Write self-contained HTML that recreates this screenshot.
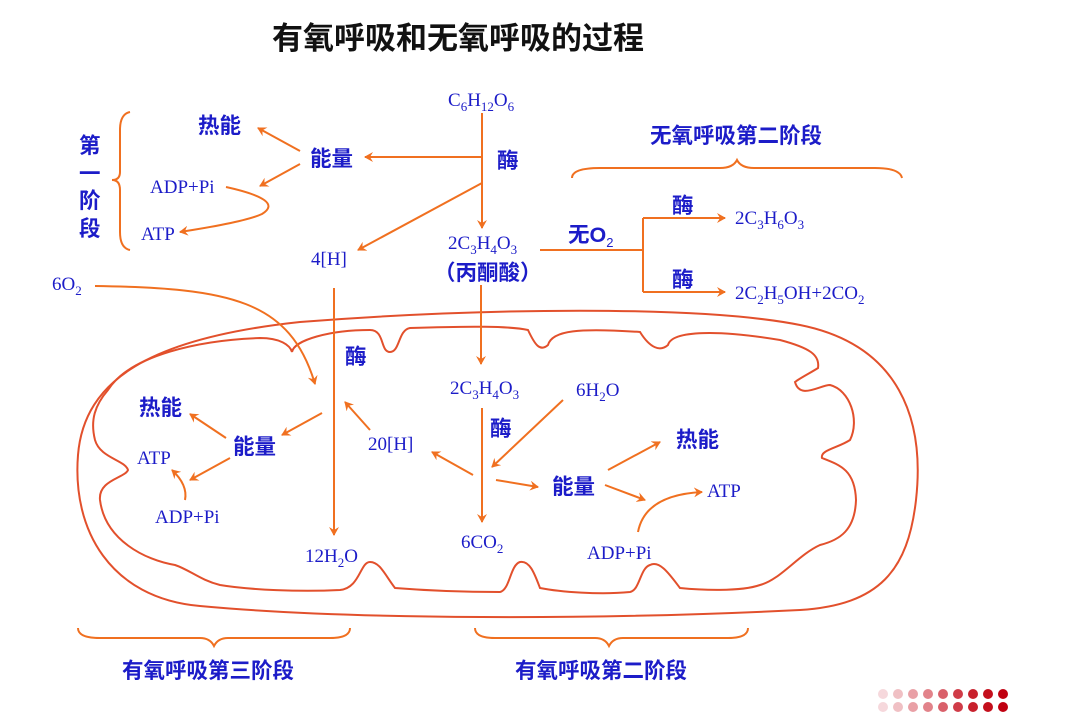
<!DOCTYPE html>
<html><head><meta charset="utf-8"><style>
html,body{margin:0;padding:0;background:#fff;width:1079px;height:724px;overflow:hidden}
svg{display:block}
text{font-family:"Liberation Serif","Noto Sans CJK SC",serif;fill:#1c1cc8;font-size:19px}
.c{font-family:"Liberation Sans","Noto Sans CJK SC",sans-serif;font-weight:bold;font-size:21.5px}
.s{font-size:13px}
</style></head><body>
<svg width="1079" height="724" viewBox="0 0 1079 724" xmlns="http://www.w3.org/2000/svg">
<defs>
<marker id="a" markerWidth="10" markerHeight="10" refX="8" refY="5" orient="auto" markerUnits="userSpaceOnUse">
<path d="M0,0 L9,5 L0,10 L3,5 Z" fill="#f07020"/></marker>
</defs>
<text x="458" y="49" text-anchor="middle" style="font-family:'Liberation Sans','Noto Sans CJK SC',sans-serif;fill:#111;font-size:31px;font-weight:bold">有氧呼吸和无氧呼吸的过程</text>

<!-- mitochondria -->
<g fill="none" stroke="#e2502c" stroke-width="2">
<path d="M300 322 C480 308 700 305 800 325 C900 345 925 420 916 500 C908 570 880 605 800 610 C600 620 350 620 200 606 C110 598 72 530 78 455 C84 380 150 338 300 322 Z"/>
<path d="M108 390 C130 355 200 340 260 338 C280 338 290 345 292 352 C294 340 330 330 370 330 C385 330 380 352 390 352 C400 352 398 330 410 328 C470 326 510 326 528 330 C535 345 540 352 548 345 C552 330 580 328 640 332 C650 348 660 352 668 345 C672 330 720 330 780 340 C810 348 820 355 818 368 C812 372 800 378 795 382 C800 400 820 385 830 385 C850 390 860 420 850 440 C838 448 820 450 822 458 C840 465 855 470 856 500 C855 530 840 540 820 545 C798 555 780 580 760 585 C740 592 700 590 680 588 C670 575 660 560 650 565 C640 568 640 590 630 592 C600 595 560 592 540 588 C535 575 530 560 520 562 C510 565 510 590 500 592 C460 592 420 590 395 588 C385 575 380 562 370 562 C360 562 360 588 340 590 C300 592 250 590 220 585 C200 580 190 570 175 565 C145 560 105 540 100 500 C98 480 125 478 128 470 C125 460 100 458 95 440 C90 420 95 405 108 390 Z"/>
</g>

<g fill="none" stroke="#f07020" stroke-width="2">
<path d="M130 112 Q120 114 120 130 L120 172 Q120 180 112 180 Q120 180 120 190 L120 232 Q120 248 130 250"/>
<path d="M572 178 Q572 168 600 168 L720 168 Q733 168 737 160 Q741 168 754 168 L875 168 Q900 168 902 178"/>
<path d="M78 628 Q78 638 100 638 L200 638 Q210 638 214 646 Q218 638 228 638 L330 638 Q350 638 350 628"/>
<path d="M475 628 Q475 638 495 638 L595 638 Q605 638 609 646 Q613 638 623 638 L728 638 Q748 638 748 628"/>
<path d="M482 113 L482 228" marker-end="url(#a)"/>
<path d="M482 157 L365 157" marker-end="url(#a)"/>
<path d="M482 183 L358 250" marker-end="url(#a)"/>
<path d="M300 151 L258 128" marker-end="url(#a)"/>
<path d="M300 164 L260 186" marker-end="url(#a)"/>
<path d="M226 187 Q285 200 262 214 Q245 222 180 232" marker-end="url(#a)"/>
<path d="M481 285 L481 364" marker-end="url(#a)"/>
<path d="M540 250 L643 250 M643 218 L643 292"/>
<path d="M643 218 L725 218" marker-end="url(#a)"/>
<path d="M643 292 L725 292" marker-end="url(#a)"/>
<path d="M334 288 L334 535" marker-end="url(#a)"/>
<path d="M95 286 C230 288 290 300 315 384" marker-end="url(#a)"/>
<path d="M482 408 L482 522" marker-end="url(#a)"/>
<path d="M563 400 L492 467" marker-end="url(#a)"/>
<path d="M473 475 L432 452" marker-end="url(#a)"/>
<path d="M370 430 L345 402" marker-end="url(#a)"/>
<path d="M322 413 L282 435" marker-end="url(#a)"/>
<path d="M226 438 L190 414" marker-end="url(#a)"/>
<path d="M230 458 L190 480" marker-end="url(#a)"/>
<path d="M185 500 Q188 485 172 470" marker-end="url(#a)"/>
<path d="M496 480 L538 487" marker-end="url(#a)"/>
<path d="M608 470 L660 442" marker-end="url(#a)"/>
<path d="M605 485 L645 500" marker-end="url(#a)"/>
<path d="M638 532 Q645 495 702 492" marker-end="url(#a)"/>
</g>

<text x="448" y="106">C<tspan class="s" dy="5">6</tspan><tspan dy="-5">H</tspan><tspan class="s" dy="5">12</tspan><tspan dy="-5">O</tspan><tspan class="s" dy="5">6</tspan></text>
<text x="497" y="168" class="c">酶</text>
<text x="310" y="166" class="c">能量</text>
<text x="198" y="133" class="c">热能</text>
<text x="150" y="193">ADP+Pi</text>
<text x="141" y="240">ATP</text>
<text x="79" y="153" class="c">第</text>
<text x="79" y="181" class="c">一</text>
<text x="79" y="208" class="c">阶</text>
<text x="79" y="236" class="c">段</text>
<text x="311" y="265">4[H]</text>
<text x="448" y="249">2C<tspan class="s" dy="5">3</tspan><tspan dy="-5">H</tspan><tspan class="s" dy="5">4</tspan><tspan dy="-5">O</tspan><tspan class="s" dy="5">3</tspan></text>
<text x="434" y="280" class="c">（丙酮酸）</text>
<text x="568" y="242" class="c">无O<tspan class="s" dy="5" style="font-weight:normal">2</tspan></text>
<text x="650" y="143" class="c">无氧呼吸第二阶段</text>
<text x="672" y="213" class="c">酶</text>
<text x="735" y="224">2C<tspan class="s" dy="5">3</tspan><tspan dy="-5">H</tspan><tspan class="s" dy="5">6</tspan><tspan dy="-5">O</tspan><tspan class="s" dy="5">3</tspan></text>
<text x="672" y="287" class="c">酶</text>
<text x="735" y="299">2C<tspan class="s" dy="5">2</tspan><tspan dy="-5">H</tspan><tspan class="s" dy="5">5</tspan><tspan dy="-5">OH+2CO</tspan><tspan class="s" dy="5">2</tspan></text>
<text x="52" y="290">6O<tspan class="s" dy="5">2</tspan></text>
<text x="345" y="364" class="c">酶</text>
<text x="450" y="394">2C<tspan class="s" dy="5">3</tspan><tspan dy="-5">H</tspan><tspan class="s" dy="5">4</tspan><tspan dy="-5">O</tspan><tspan class="s" dy="5">3</tspan></text>
<text x="576" y="396">6H<tspan class="s" dy="5">2</tspan><tspan dy="-5">O</tspan></text>
<text x="490" y="436" class="c">酶</text>
<text x="139" y="415" class="c">热能</text>
<text x="233" y="454" class="c">能量</text>
<text x="137" y="464">ATP</text>
<text x="155" y="523">ADP+Pi</text>
<text x="368" y="450">20[H]</text>
<text x="305" y="562">12H<tspan class="s" dy="5">2</tspan><tspan dy="-5">O</tspan></text>
<text x="461" y="548">6CO<tspan class="s" dy="5">2</tspan></text>
<text x="552" y="494" class="c">能量</text>
<text x="676" y="447" class="c">热能</text>
<text x="707" y="497">ATP</text>
<text x="587" y="559">ADP+Pi</text>
<text x="122" y="678" class="c">有氧呼吸第三阶段</text>
<text x="515" y="678" class="c">有氧呼吸第二阶段</text>

<g>
<circle cx="883" cy="694" r="5" fill="#f6d8dc"/><circle cx="898" cy="694" r="5" fill="#f0c0c4"/><circle cx="913" cy="694" r="5" fill="#e9a0a6"/><circle cx="928" cy="694" r="5" fill="#e2838a"/><circle cx="943" cy="694" r="5" fill="#d9606a"/><circle cx="958" cy="694" r="5" fill="#d03c48"/><circle cx="973" cy="694" r="5" fill="#c8202c"/><circle cx="988" cy="694" r="5" fill="#c40f1c"/><circle cx="1003" cy="694" r="5" fill="#c00010"/>
<circle cx="883" cy="707" r="5" fill="#f6d8dc"/><circle cx="898" cy="707" r="5" fill="#f0c0c4"/><circle cx="913" cy="707" r="5" fill="#e9a0a6"/><circle cx="928" cy="707" r="5" fill="#e2838a"/><circle cx="943" cy="707" r="5" fill="#d9606a"/><circle cx="958" cy="707" r="5" fill="#d03c48"/><circle cx="973" cy="707" r="5" fill="#c8202c"/><circle cx="988" cy="707" r="5" fill="#c40f1c"/><circle cx="1003" cy="707" r="5" fill="#c00010"/>
</g>
</svg>
</body></html>
